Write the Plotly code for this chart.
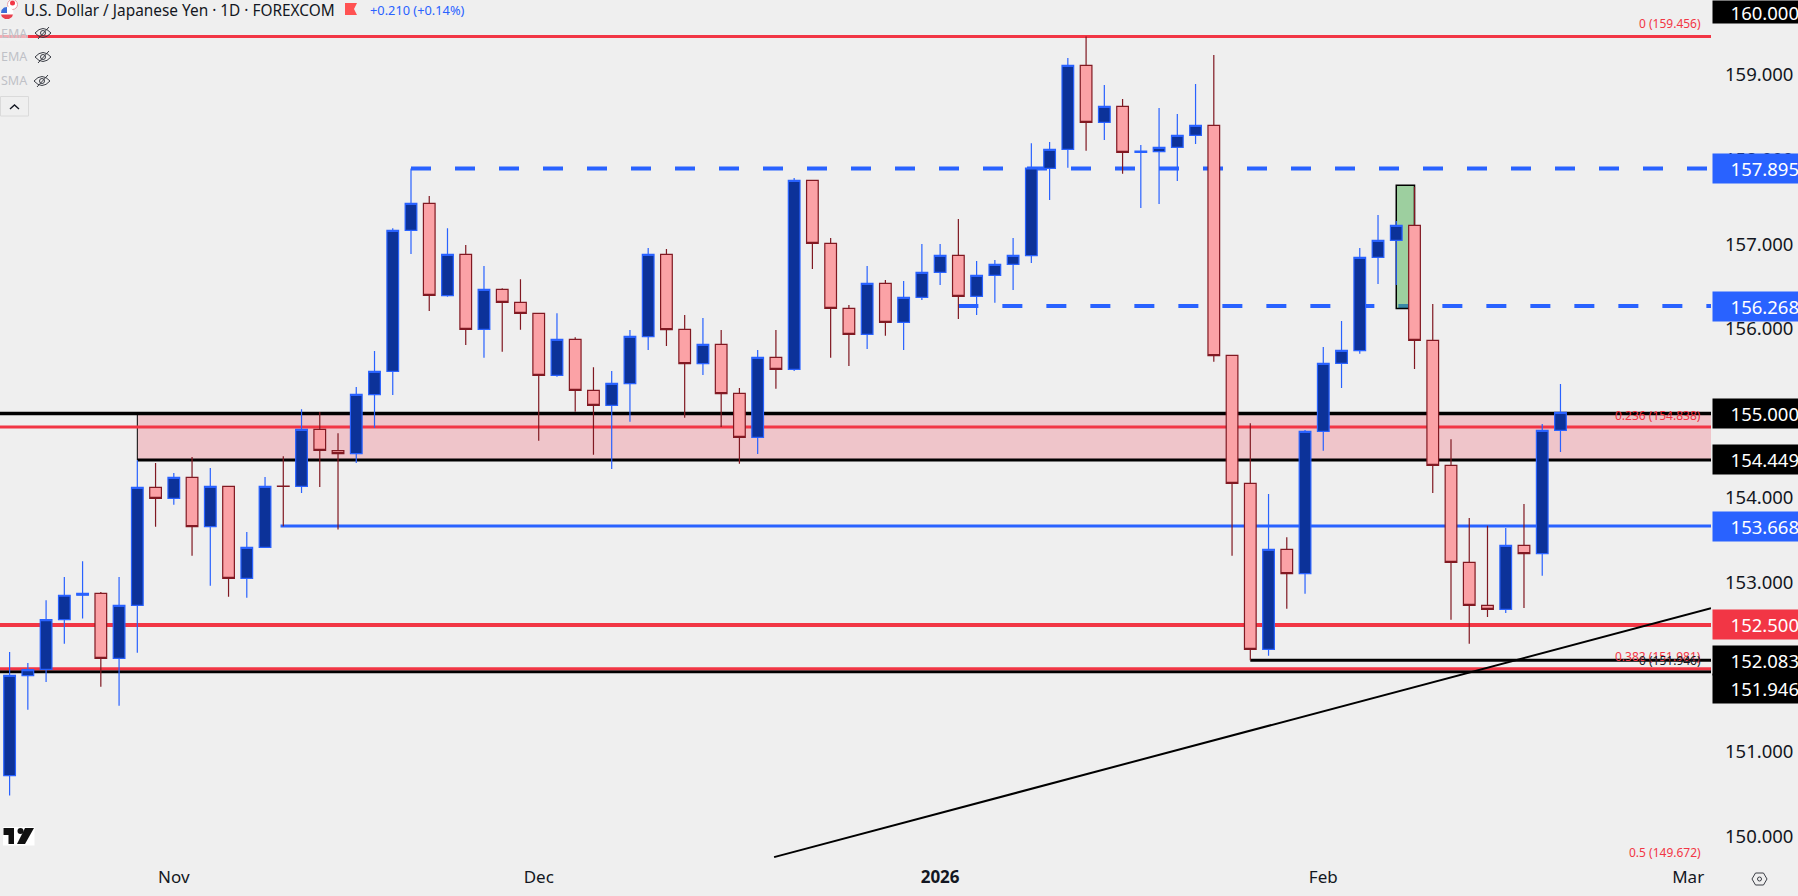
import plotly.graph_objects as go

# ---- USD/JPY daily candles -------------------------------------------------
bar_index = list(range(86))
opens = [150.718, 151.900, 151.975, 152.562, 152.850, 152.873, 152.105, 152.731, 154.126, 153.996,
         154.244, 153.661, 154.138, 153.050, 153.417, 154.140, 154.138, 154.811, 154.559, 154.524,
         155.221, 155.497, 157.163, 157.483, 156.391, 156.880, 155.993, 156.466, 156.312, 156.182,
         155.449, 155.875, 155.272, 155.095, 155.351, 155.906, 156.880, 155.993, 155.587, 155.816,
         155.237, 154.717, 155.662, 155.520, 157.754, 157.010, 156.241, 155.934, 156.537, 156.076,
         156.371, 156.667, 156.868, 156.383, 156.631, 156.761, 156.864, 157.896, 158.121, 159.114,
         158.440, 158.629, 158.086, 158.093, 158.144, 158.286, 158.405, 155.686, 154.173, 152.211,
         153.393, 153.106, 154.788, 155.591, 155.741, 156.844, 157.045, 157.222, 155.863, 154.386,
         153.240, 152.731, 152.684, 153.440, 153.342, 154.799]
highs = [152.180, 152.050, 152.790, 153.066, 153.251, 152.889, 153.066, 154.445, 154.414, 154.295,
         154.485, 154.355, 154.138, 153.598, 154.248, 154.492, 155.048, 155.016, 154.764, 155.311,
         155.737, 157.187, 157.895, 157.569, 157.187, 156.990, 156.742, 156.478, 156.584, 156.182,
         156.182, 155.899, 155.544, 155.501, 155.985, 156.955, 156.943, 156.163, 156.127, 155.985,
         155.300, 155.749, 155.985, 157.782, 157.754, 157.073, 156.281, 156.742, 156.576, 156.564,
         157.002, 157.002, 157.297, 156.801, 156.813, 157.073, 158.192, 158.208, 159.200, 159.456,
         158.881, 158.716, 158.172, 158.609, 158.538, 158.893, 159.236, 155.686, 154.882, 154.047,
         153.535, 154.803, 155.784, 156.092, 156.955, 157.345, 157.274, 157.680, 156.293, 154.693,
         153.764, 153.673, 153.645, 153.929, 154.874, 155.347]
lows = [150.482, 151.498, 151.825, 152.278, 152.574, 151.770, 151.545, 152.172, 153.661, 153.921,
        153.318, 152.964, 152.834, 152.822, 153.417, 153.665, 154.059, 154.130, 153.626, 154.414,
        154.831, 155.217, 156.883, 156.210, 156.379, 155.808, 155.658, 155.729, 155.989, 154.677,
        155.434, 155.020, 154.512, 154.343, 154.902, 155.749, 155.796, 154.949, 155.453, 154.839,
        154.405, 154.520, 155.292, 155.501, 156.706, 155.658, 155.560, 155.761, 155.918, 155.749,
        156.340, 156.517, 156.115, 156.163, 156.308, 156.458, 156.777, 157.522, 157.904, 158.105,
        158.231, 157.833, 157.427, 157.475, 157.747, 158.184, 155.611, 153.318, 152.081, 152.136,
        152.692, 152.869, 154.559, 155.300, 155.706, 156.529, 156.517, 155.524, 154.059, 152.562,
        152.278, 152.593, 152.641, 152.700, 153.082, 154.544]
closes = [151.904, 151.971, 152.562, 152.850, 152.873, 152.105, 152.731, 154.126, 153.996, 154.244,
          153.661, 154.138, 153.050, 153.417, 154.138, 154.136, 154.811, 154.563, 154.524, 155.225,
          155.497, 157.163, 157.483, 156.395, 156.880, 155.993, 156.466, 156.312, 156.182, 155.449,
          155.875, 155.272, 155.095, 155.355, 155.910, 156.880, 155.989, 155.587, 155.816, 155.233,
          154.717, 155.662, 155.520, 157.754, 157.010, 156.241, 155.934, 156.537, 156.076, 156.371,
          156.667, 156.868, 156.383, 156.631, 156.761, 156.868, 157.900, 158.121, 159.114, 158.440,
          158.629, 158.085, 158.100, 158.144, 158.286, 158.405, 155.682, 154.173, 152.211, 153.393,
          153.106, 154.788, 155.591, 155.745, 156.844, 157.045, 157.222, 155.863, 154.386, 153.240,
          152.731, 152.684, 153.440, 153.342, 154.799, 155.012]

# ---- Price levels and drawing tools ----------------------------------------
zone_top, zone_bottom, zone_start = 155.000, 154.449, 7
fib_0, fib_236, fib_382 = 159.456, 154.838, 151.981
level_1525 = 152.500
level_15194 = 151.946
level_15208, level_15208_start = 152.083, 68
level_15367, level_15367_start = 153.668, 14.85
dashed_upper, dashed_upper_start = 157.895, 22
dashed_lower, dashed_lower_start = 156.268, 52
box_x, box_y = (76, 77), (156.241, 157.695)
trend_x, trend_y = (41.9, 93.25), (149.755, 152.696)

# ---- Axis labels ------------------------------------------------------------
month_ticks = [9, 29, 51, 72, 92]
month_labels = ["Nov", "Dec", "<b>2026</b>", "Feb", "Mar"]
price_ticks = [150, 151, 152, 153, 154, 155, 156, 157, 158, 159]

# Price tags on the right-hand scale: value, background, downward nudge in px
price_tags = [(157.895, "#2962ff", 0), (156.268, "#2962ff", 0), (155.000, "#000000", 0),
              (154.449, "#000000", 0), (153.668, "#2962ff", 0), (152.500, "#f23645", 0),
              (152.083, "#000000", 0), (151.946, "#000000", 17)]

# Fibonacci level captions: text, vertical pixel centre, colour
fib_captions = [("0 (159.456)", 23.7, "#f23645"), ("0.236 (154.838)", 415, "#f23645"),
                ("0.382 (151.981)", 656.7, "#f23645"), ("0 (151.946)", 660.5, "#131722"),
                ("0.5 (149.672)", 852, "#f23645")]

W, H = 1798, 896
M_R, M_B = 87, 36
PW, PH = W - M_R, H - M_B
X_MIN, X_MAX = -0.526, 93.25
Y_TOP, Y_BOTTOM = 159.886, 149.721
BG = "#efefef"
INK = "#131722"
BLUE = "#2962ff"
RED = "#f23645"
FONT = "Noto Sans"


def px(x):
    return x / PW


def py(y):
    return 1 - y / PH


def hline(price, start, color, width, dash="solid"):
    return dict(type="line", xref="x", yref="y", x0=start, x1=X_MAX, y0=price, y1=price,
                layer="below", line=dict(color=color, width=width, dash=dash))


def path_shape(points, fill=None, line=None, width=1, close=True):
    d = "M " + " L ".join(f"{px(a):.5f} {py(b):.5f}" for a, b in points) + (" Z" if close else "")
    return dict(type="path", xref="paper", yref="paper", path=d, layer="above",
                fillcolor=fill or "rgba(0,0,0,0)", line=dict(color=line or "rgba(0,0,0,0)", width=width))


def circle(cx, cy, r, fill=None, line=None, width=1):
    return dict(type="circle", xref="paper", yref="paper", layer="above",
                x0=px(cx - r), x1=px(cx + r), y0=py(cy + r), y1=py(cy - r),
                fillcolor=fill or "rgba(0,0,0,0)", line=dict(color=line or "rgba(0,0,0,0)", width=width))


def box(x0, y0, x1, y1, fill=None, line=None, width=1):
    return dict(type="rect", xref="paper", yref="paper", layer="above",
                x0=px(x0), x1=px(x1), y0=py(y1), y1=py(y0),
                fillcolor=fill or "rgba(0,0,0,0)", line=dict(color=line or "rgba(0,0,0,0)", width=width))


def hidden_eye(cx, cy):
    # Struck-through eye used on the muted indicator rows
    color = "#3a3d45"
    eye = dict(type="path", xref="paper", yref="paper", layer="above",
               path=(f"M {px(cx - 8):.5f} {py(cy):.5f} Q {px(cx):.5f} {py(cy - 9):.5f} {px(cx + 8):.5f} {py(cy):.5f} "
                     f"Q {px(cx):.5f} {py(cy + 9):.5f} {px(cx - 8):.5f} {py(cy):.5f} Z"),
               line=dict(color=color, width=1))
    return [eye, circle(cx, cy, 2.5, line=color),
            path_shape([(cx - 5, cy + 6), (cx + 6, cy - 6)], line=color, close=False)]


shapes = [
    # Supply/demand zone, levels and tools, stacked underneath the candles
    dict(type="rect", xref="x", yref="y", x0=zone_start, x1=X_MAX, y0=zone_bottom, y1=zone_top,
         fillcolor="#efc5ca", line=dict(width=0), layer="below"),
    dict(type="line", xref="x", yref="y", x0=zone_start, x1=zone_start, y0=zone_bottom, y1=zone_top,
         line=dict(color="#000000", width=1), layer="below"),
    hline(fib_0, X_MIN, RED, 3),
    hline(zone_top, X_MIN, "#000000", 3.5),
    hline(fib_236, X_MIN, RED, 3),
    hline(zone_bottom, zone_start, "#000000", 3),
    hline(level_15367, level_15367_start, BLUE, 3),
    hline(level_1525, X_MIN, RED, 4),
    hline(level_15194, X_MIN, "#000000", 3),
    hline(fib_382, X_MIN, RED, 3),
    hline(level_15208, level_15208_start, "#000000", 3),
    hline(dashed_upper, dashed_upper_start, BLUE, 4, "20px,24px"),
    hline(dashed_lower, dashed_lower_start, BLUE, 4, "20px,24px"),
    dict(type="rect", xref="x", yref="y", x0=box_x[0], x1=box_x[1], y0=box_y[0], y1=box_y[1],
         fillcolor="rgba(76,175,80,0.5)", line=dict(color="#000000", width=1.5), layer="below"),
    dict(type="line", xref="x", yref="y", x0=trend_x[0], x1=trend_x[1], y0=trend_y[0], y1=trend_y[1],
         line=dict(color="#000000", width=2), layer="below"),
    # Legend furniture
    box(0, 27, 28, 41, fill="rgba(239,239,239,0.65)"),
    circle(12.5, 4.5, 5, fill="#ffffff", line="#e8a0a8"),
    circle(12.5, 3, 2.5, fill="#f23645"),
    circle(7, 13, 6.3, fill="#ffffff"),
    path_shape([(1, 14.5), (13, 14.5), (12, 17), (9, 19), (5, 19), (2, 17)], fill="#e8424f"),
    path_shape([(1, 13), (1.5, 10), (4, 7.5), (7, 7), (7, 13)], fill="#3d6fd8"),
    path_shape([(345, 3), (357, 3), (354, 9), (357, 15), (345, 15)], fill="#ff5252"),
    *hidden_eye(43, 33), *hidden_eye(43, 57), *hidden_eye(42, 81),
    dict(type="rect", xref="paper", yref="paper", layer="above", x0=px(0.5), x1=px(28.5), y0=py(116), y1=py(96.5),
         line=dict(color="#dadada", width=1), fillcolor="rgba(0,0,0,0)"),
    path_shape([(10, 109), (14.5, 105), (19, 109)], line=INK, width=1.4, close=False),
    # Platform mark in the lower-left corner
    box(3, 827, 34.5, 845.5, fill="#ffffff"),
    path_shape([(3.5, 828), (14, 828), (14, 844), (8.5, 844), (8.5, 835), (3.5, 835)], fill="#111111"),
    circle(20.5, 831, 3, fill="#111111"),
    path_shape([(25, 828), (34, 828), (25, 844), (17, 844)], fill="#111111"),
    # Chart settings glyph under the price scale
    path_shape([(1752, 879), (1755.5, 873), (1763.5, 873), (1767, 879), (1763.5, 885), (1755.5, 885)],
               line="#3a3d45", width=1),
    circle(1759.5, 879, 2, line="#3a3d45"),
]

annotations = []


def text_at(text, x, y, size, color, anchor="left", **extra):
    annotations.append(dict(text=text, xref="paper", yref="paper", x=px(x), y=py(y), xanchor=anchor,
                            yanchor="middle", showarrow=False, borderpad=0,
                            font=dict(family=FONT, size=size, color=color), **extra))


text_at("U.S. Dollar / Japanese Yen · 1D · FOREXCOM", 23, 10, 15.4, INK)
text_at("+0.210 (+0.14%)", 369, 10, 12.8, BLUE)
text_at("EMA", 0, 33, 12.5, "#bfc1c7")
text_at("EMA", 0, 57, 12.5, "#bfc1c7")
text_at("SMA", 0, 81, 12.5, "#bfc1c7")

for caption, y, color in fib_captions:
    text_at(caption, 1702, y, 12, color, anchor="right")

for value, color, nudge in price_tags:
    annotations.append(dict(text=f"{value:.3f}", xref="paper", x=1.0005, xanchor="left", yref="y", y=value,
                            yanchor="middle", yshift=-nudge, showarrow=False, width=86, height=29,
                            align="right", bgcolor=color, borderpad=0,
                            font=dict(family=FONT, size=18.5, color="#ffffff")))
annotations.append(dict(text="160.000", xref="paper", x=1.0005, xanchor="left", yref="paper", y=1, yanchor="top",
                        showarrow=False, width=86, height=22, align="right", bgcolor="#000000", borderpad=0,
                        font=dict(family=FONT, size=18.5, color="#ffffff")))

fig = go.Figure(go.Candlestick(
    x=bar_index, open=opens, high=highs, low=lows, close=closes,
    whiskerwidth=0,
    increasing=dict(fillcolor="#0c3299", line=dict(color=BLUE, width=1.2)),
    decreasing=dict(fillcolor="#fba2a6", line=dict(color="#801922", width=1.2)),
    showlegend=False,
    hoverinfo="skip",
))

fig.update_layout(
    width=W, height=H,
    margin=dict(l=0, r=M_R, t=0, b=M_B, pad=0),
    paper_bgcolor=BG, plot_bgcolor=BG,
    boxgap=0.36,
    boxgroupgap=0,
    shapes=shapes,
    annotations=annotations,
    font=dict(family=FONT, color=INK),
    xaxis=dict(range=[X_MIN, X_MAX], rangeslider=dict(visible=False), showgrid=False, zeroline=False,
               showline=False, tickmode="array", tickvals=month_ticks, ticktext=month_labels, ticks="",
               tickfont=dict(family=FONT, size=17, color=INK), ticklabelstandoff=5),
    yaxis=dict(range=[Y_BOTTOM, Y_TOP], side="right", showgrid=False, zeroline=False, showline=False,
               tickmode="array", tickvals=price_ticks, tickformat=".3f", ticks="",
               tickfont=dict(family=FONT, size=18.5, color=INK), ticklabelstandoff=13),
)

fig.write_html("out.html", config=dict(displayModeBar=False))
